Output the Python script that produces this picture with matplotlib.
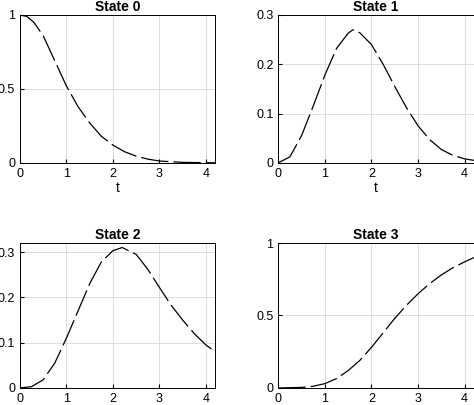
import matplotlib
matplotlib.use("Agg")
import matplotlib.pyplot as plt

plt.rcParams['font.family'] = ['Liberation Sans', 'DejaVu Sans']

t0 = [0, 0.15, 0.3, 0.5, 0.75, 1.0, 1.25, 1.5, 1.75, 2.0, 2.25, 2.5, 2.75, 3.0, 3.5, 4.2]
p0 = [1.0, 0.99, 0.95, 0.86, 0.69, 0.52, 0.38, 0.27, 0.18, 0.12, 0.075, 0.045, 0.025, 0.012, 0.003, 0.0]
t1 = [0, 0.25, 0.5, 0.75, 1.0, 1.25, 1.5, 1.6, 1.75, 2.0, 2.25, 2.5, 2.75, 3.0, 3.25, 3.5, 3.75, 4.0, 4.2]
p1 = [0, 0.012, 0.055, 0.115, 0.178, 0.232, 0.263, 0.27, 0.264, 0.24, 0.2, 0.155, 0.112, 0.075, 0.047, 0.027, 0.015, 0.008, 0.005]
t2 = [0, 0.25, 0.5, 0.75, 1.0, 1.25, 1.5, 1.75, 2.0, 2.2, 2.5, 2.75, 3.0, 3.25, 3.5, 3.75, 4.0, 4.2]
p2 = [0, 0.003, 0.018, 0.055, 0.11, 0.17, 0.23, 0.278, 0.303, 0.31, 0.295, 0.262, 0.222, 0.183, 0.15, 0.12, 0.095, 0.08]
t3 = [0, 0.5, 0.75, 1.0, 1.25, 1.5, 1.75, 2.0, 2.25, 2.5, 2.75, 3.0, 3.25, 3.5, 3.75, 4.0, 4.2]
p3 = [0, 0.004, 0.012, 0.03, 0.065, 0.12, 0.19, 0.28, 0.38, 0.48, 0.57, 0.65, 0.72, 0.78, 0.83, 0.87, 0.9]

titles = ["State 0", "State 1", "State 2", "State 3"]
ylims = [(0, 1), (0, 0.3), (0, 0.32), (0, 1)]
yticks = [[0, 0.5, 1], [0, 0.1, 0.2, 0.3], [0, 0.1, 0.2, 0.3], [0, 0.5, 1]]
ytl = [["0", "0.5", "1"], ["0", "0.1", "0.2", "0.3"], ["0", "0.1", "0.2", "0.3"], ["0", "0.5", "1"]]
data = [(t0, p0), (t1, p1), (t2, p2), (t3, p3)]

fig = plt.figure(figsize=(4.74, 4.05), dpi=100)
pos = [(0.042, 0.598, 0.412, 0.365), (0.587, 0.598, 0.413, 0.365),
       (0.042, 0.042, 0.412, 0.358), (0.587, 0.042, 0.413, 0.358)]
for i, (x, y) in enumerate(data):
    ax = fig.add_axes(pos[i])
    ax.plot(x, y, color='black', lw=0.9, dashes=(22, 4))
    ax.set_xlim(0, 4.2)
    ax.set_ylim(*ylims[i])
    ax.set_xticks([0, 1, 2, 3, 4])
    ax.set_yticks(yticks[i])
    ax.set_yticklabels(ytl[i])
    ax.grid(True, color='#dddddd', lw=0.7)
    ax.set_title(titles[i], fontsize=10, fontweight='bold', pad=3)
    ax.tick_params(labelsize=9, direction='in', length=3)
    for s in ax.spines.values():
        s.set_linewidth(0.7)
    if i < 2:
        ax.set_xlabel("t", fontsize=10, labelpad=1)

fig.savefig("out.png", dpi=100)
